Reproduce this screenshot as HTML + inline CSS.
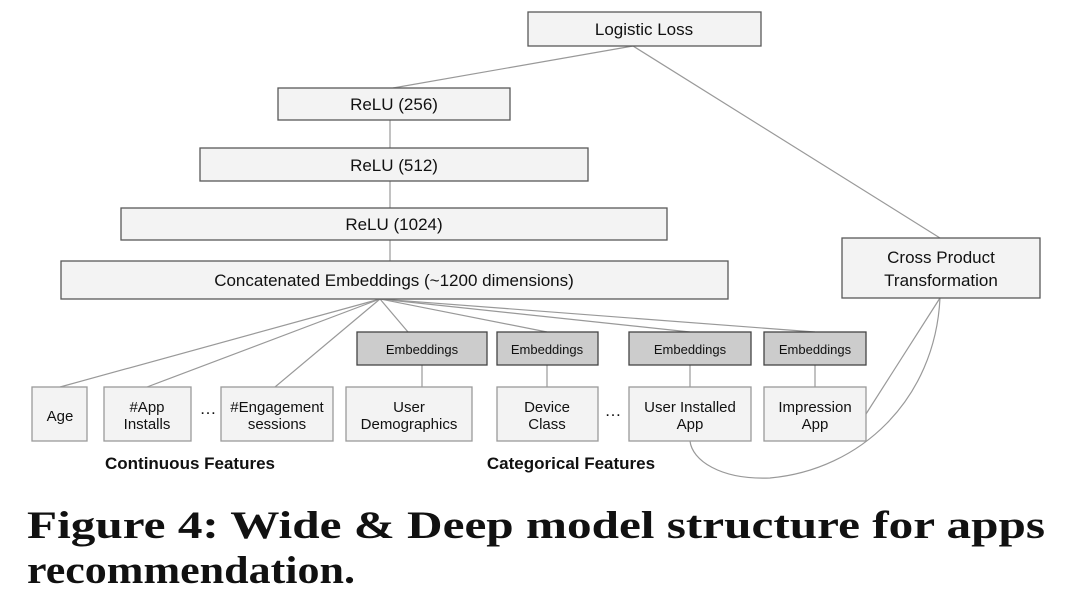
<!DOCTYPE html>
<html><head><meta charset="utf-8"><style>
html,body{margin:0;padding:0;background:#fff;width:1076px;height:597px;overflow:hidden}
svg{display:block}
.b{fill:#f3f3f3;stroke:#595959;stroke-width:1.3}
.g{fill:#cccccc;stroke:#444;stroke-width:1.3}
.f{fill:#f3f3f3;stroke:#9a9a9a;stroke-width:1.3}
.l{stroke:#999;stroke-width:1.2;fill:none}
text{font-family:"Liberation Sans",sans-serif;fill:#111;text-anchor:middle}
.t{font-size:17px}
.s{font-size:15px}
.e{font-size:13px}
.h{font-size:17px;font-weight:bold}
.c{font-family:"Liberation Serif",serif;font-weight:bold;font-size:39px;text-anchor:start}
</style></head><body>
<svg width="1076" height="597" viewBox="0 0 1076 597">
<line class="l" x1="633" y1="46" x2="393" y2="88"/>
<line class="l" x1="633" y1="46" x2="940" y2="238"/>
<line class="l" x1="390" y1="120" x2="390" y2="148"/>
<line class="l" x1="390" y1="181" x2="390" y2="208"/>
<line class="l" x1="390" y1="240" x2="390" y2="261"/>
<g class="l">
<line x1="380" y1="299" x2="60" y2="387"/>
<line x1="380" y1="299" x2="147" y2="387"/>
<line x1="380" y1="299" x2="275" y2="387"/>
<line x1="380" y1="299" x2="408" y2="332"/>
<line x1="380" y1="299" x2="547" y2="332"/>
<line x1="380" y1="299" x2="690" y2="332"/>
<line x1="380" y1="299" x2="815" y2="332"/>
<line x1="422" y1="365" x2="422" y2="387"/>
<line x1="547" y1="365" x2="547" y2="387"/>
<line x1="690" y1="365" x2="690" y2="392"/>
<line x1="815" y1="365" x2="815" y2="387"/>
<line x1="940" y1="298" x2="866" y2="414"/>
<path d="M940 298 C 935 400, 860 470, 770 478 C 720 480, 692 460, 690 441"/>
</g>
<rect class="b" x="528" y="12" width="233" height="34"/><text class="t" x="644" y="35">Logistic Loss</text>
<rect class="b" x="278" y="88" width="232" height="32"/><text class="t" x="394" y="110">ReLU (256)</text>
<rect class="b" x="200" y="148" width="388" height="33"/><text class="t" x="394" y="171">ReLU (512)</text>
<rect class="b" x="121" y="208" width="546" height="32"/><text class="t" x="394" y="230">ReLU (1024)</text>
<rect class="b" x="61" y="261" width="667" height="38"/><text class="t" x="394" y="286">Concatenated Embeddings (~1200 dimensions)</text>
<rect class="b" x="842" y="238" width="198" height="60"/><text class="t" x="941" y="263">Cross Product</text><text class="t" x="941" y="286">Transformation</text>
<rect class="g" x="357" y="332" width="130" height="33"/><text class="e" x="422" y="354">Embeddings</text>
<rect class="g" x="497" y="332" width="101" height="33"/><text class="e" x="547" y="354">Embeddings</text>
<rect class="g" x="629" y="332" width="122" height="33"/><text class="e" x="690" y="354">Embeddings</text>
<rect class="g" x="764" y="332" width="102" height="33"/><text class="e" x="815" y="354">Embeddings</text>
<rect class="f" x="32" y="387" width="55" height="54"/><text class="s" x="60" y="421">Age</text>
<rect class="f" x="104" y="387" width="87" height="54"/><text class="s" x="147" y="412">#App</text><text class="s" x="147" y="429">Installs</text>
<text class="t" x="208" y="414">…</text>
<rect class="f" x="221" y="387" width="112" height="54"/><text class="s" x="277" y="412">#Engagement</text><text class="s" x="277" y="429">sessions</text>
<rect class="f" x="346" y="387" width="126" height="54"/><text class="s" x="409" y="412">User</text><text class="s" x="409" y="429">Demographics</text>
<rect class="f" x="497" y="387" width="101" height="54"/><text class="s" x="547" y="412">Device</text><text class="s" x="547" y="429">Class</text>
<text class="t" x="613" y="416">…</text>
<rect class="f" x="629" y="387" width="122" height="54"/><text class="s" x="690" y="412">User Installed</text><text class="s" x="690" y="429">App</text>
<rect class="f" x="764" y="387" width="102" height="54"/><text class="s" x="815" y="412">Impression</text><text class="s" x="815" y="429">App</text>
<text class="h" x="190" y="469">Continuous Features</text>
<text class="h" x="571" y="469">Categorical Features</text>
<text class="c" x="27" y="538" textLength="1018" lengthAdjust="spacingAndGlyphs">Figure 4:  Wide &amp; Deep model structure for apps</text>
<text class="c" x="27" y="583" textLength="328" lengthAdjust="spacingAndGlyphs">recommendation.</text>
</svg>
</body></html>
